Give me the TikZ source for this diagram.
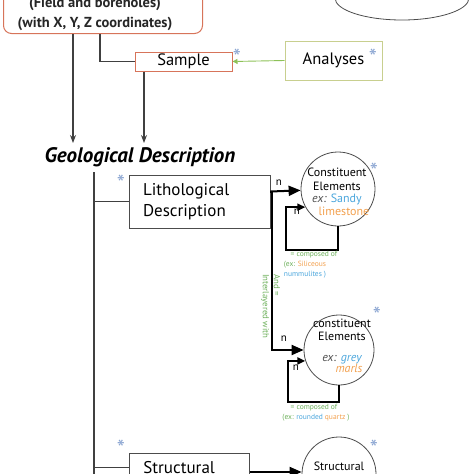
\documentclass[tikz,border=0pt]{standalone}
\usepackage{fontspec}
\setmainfont{PT Sans}
\usepackage{xcolor}
\usetikzlibrary{arrows.meta,positioning,calc}

\definecolor{siteorange}{HTML}{D7745A}
\definecolor{olivebox}{HTML}{C8CF8F}
\definecolor{arrowgreen}{HTML}{8DC158}
\definecolor{starblue}{HTML}{8CA6D2}
\definecolor{noteblue}{HTML}{4BA6DC}
\definecolor{noteorange}{HTML}{F2A04E}
\definecolor{notegreen}{HTML}{6DB05B}

\begin{document}
\begin{tikzpicture}[x=1pt, y=-1pt,
    link/.style={draw=black!75, line width=1.1pt},
    fat/.style={line width=2pt, -{Triangle[length=12pt, width=10pt]}},
    loopfat/.style={line width=2pt, -{Triangle[length=8pt, width=7pt]}},
    star/.style={text=starblue, font=\fontsize{23}{23}\selectfont, inner sep=0pt},
    elem/.style={circle, draw=black!70, line width=0.8pt, inner sep=0pt},
    elemtext/.style={align=center, font=\fontsize{12}{13.5}\selectfont, inner sep=0pt},
    note/.style={font=\fontsize{7.5}{8}\selectfont, text=notegreen, inner sep=0pt},
    sidenote/.style={font=\fontsize{8.8}{9}\selectfont, text=notegreen, inner sep=0pt, rotate=-90, anchor=west},
    nlabel/.style={font=\fontsize{11}{11}\selectfont, inner sep=0pt},
    bigtext/.style={font=\fontsize{17}{21}\selectfont}]
    \useasboundingbox (0,0) rectangle (474,474);
    \clip (0,0) rectangle (474,474);

    % Site box at the top
    \node (site) [draw=siteorange, line width=1pt, rounded corners=8pt, minimum width=199pt,
        minimum height=70pt, anchor=south west] at (3,34) {};
    \node (sitename) [font=\fontsize{14.5}{15}\bfseries, text=black!85] at (95,4) {(Field and boreholes)};
    \node (sitecoord) [font=\fontsize{14.5}{15}\bfseries, text=black!85] at (95,24) {(with X, Y, Z coordinates)};
    \draw[black!70, line width=0.8pt] (402,-2) ellipse (67 and 22);

    % Sample and analyses
    \node (sample) [draw=siteorange, line width=1pt, minimum width=97pt, minimum height=19pt,
        font=\fontsize{16.5}{17}\selectfont, inner ysep=0pt] at (183.5,61.5) {Sample};
    \node (analyses) [draw=olivebox, line width=1pt, minimum width=97pt, minimum height=39pt,
        font=\fontsize{16.5}{17}\selectfont] at (333.5,60.5) {Analyses};
    \node (starsample) [star] at (237,57) {*};
    \node (staranalyses) [star] at (373,57) {*};
    \draw[arrowgreen, line width=0.9pt, -{Triangle[length=5pt, width=5pt]}] (analyses.west) -- (sample.east);

    \node (geo) [font=\fontsize{21}{21}\bfseries\itshape] at (140,157) {Geological Description};
    \coordinate (siteL) at (73,0);
    \coordinate (siteR) at (100,0);
    \coordinate (sampleL) at (144,0);
    \draw[link, -{Stealth[length=8pt, width=6pt]}] (site.south -| siteL) -- (siteL |- 0,143);
    \draw[link] (site.south -| siteR) |- (sample.west);
    \draw[link, -{Stealth[length=8pt, width=6pt]}] (sample.south -| sampleL) -- (sampleL |- 0,143);

    % Lithological description
    \coordinate (trunk) at (94,172);
    \node (litho) [draw=black!70, line width=0.8pt, minimum width=141pt, minimum height=53pt,
        text width=113pt, inner xsep=14pt, align=left, bigtext] at (199.5,201.5) {Lithological\\Description};
    \node (starlitho) [star] at (121,183) {*};
    \draw[link] (trunk) -- (trunk |- 0,480);
    \draw[link] (trunk |- litho.west) -- (litho.west);

    % First constituent elements
    \node (elem1) [elem, minimum size=74pt] at (338,189) {};
    \node (elem1text) [elemtext] at (337,192) {Constituent\\Elements\\[-1pt]{\color{black!70}\itshape ex:} {\color{noteblue}Sandy}\\[-1pt]
        \hspace*{14pt}{\color{noteorange}limestone}};
    \node (starelem1) [star] at (374,171) {*};
    \draw[fat] ([yshift=10pt]litho.east) -- (elem1);
    \draw[loopfat] (elem1.south) -- ++(0,24) -| ([xshift=-19pt]elem1.209) -- (elem1.209);
    \node (n1) [nlabel] at (279,183) {n};
    \node (n1loop) [nlabel] at (297,212) {n};
    \node (comp1) [note] at (314,255) {= composed of};
    \node (comp1a) [note] at (305,265) {(ex: {\color{noteorange}Siliceous}};
    \node (comp1b) [note] at (305,275) {{\color{noteblue}nummulites )}};

    % Interlayered branch
    \node (andeq) [sidenote] at (277,274) {And =};
    \node (interl) [sidenote] at (265,274) {Interlayered with};

    % Second constituent elements
    \node (elem2) [elem, minimum size=70pt] at (339,350) {};
    \node (elem2text) [elemtext] at (342,330) {constituent\\Elements};
    \node (elem2ex) [elemtext] at (342,364) {{\color{black!70}\itshape ex:} {\color{noteblue}\itshape grey}\\[-2pt]
        \hspace*{14pt}{\color{noteorange}\itshape marls}};
    \node (starelem2) [star] at (377,315) {*};
    \draw[fat] ([yshift=10pt]litho.east) -- ++(2,0) |- (elem2);
    \draw[loopfat] (elem2.south) -- ++(0,17) -| ([xshift=-17pt]elem2.198) -- (elem2.198);
    \node (n2) [nlabel] at (284,339) {n};
    \node (n2loop) [nlabel] at (296,368) {n};
    \node (comp2) [note] at (314,408) {= composed of};
    \node (comp2a) [note] at (316,418) {(ex: {\color{noteblue}rounded} {\color{noteorange}quartz} )};

    % Structural description
    \node (struct) [draw=black!70, line width=0.8pt, minimum width=120pt, inner ysep=8pt,
        text width=92pt, inner xsep=14pt, align=left, bigtext, anchor=north west] at (129,453) {Structural};
    \node (starstruct) [star] at (121,448) {*};
    \node (elem3) [elem, minimum size=74pt] at (339,474) {};
    \node (elem3text) [elemtext] at (339,466) {Structural};
    \node (starelem3) [star] at (374,448) {*};
    \draw[link] (trunk |- struct.west) -- (struct.west);
    \draw[fat] ([yshift=-19pt]struct.north east) -- ([yshift=-19pt]struct.north east -| elem3.west);
\end{tikzpicture}
\end{document}
